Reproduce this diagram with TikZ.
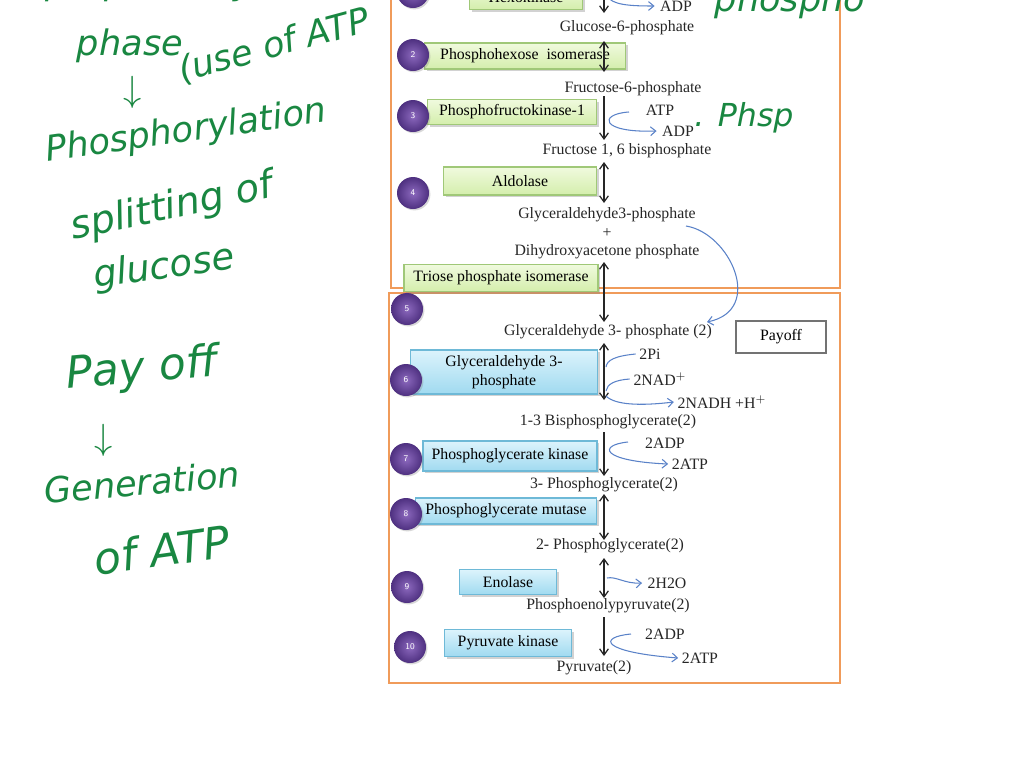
\documentclass[tikz,border=0pt]{standalone}
\usepackage{fontspec}
\setmainfont{Liberation Serif}
\newfontfamily\hand{DejaVu Sans}
\usetikzlibrary{arrows.meta,shadows}
\definecolor{orangeline}{RGB}{240,155,90}
\definecolor{inkgreen}{RGB}{25,135,65}
\definecolor{curveblue}{RGB}{90,130,200}
\definecolor{greenfillA}{RGB}{240,250,222}
\definecolor{greenfillB}{RGB}{212,238,172}
\definecolor{greenedge}{RGB}{160,200,120}
\definecolor{bluefillA}{RGB}{220,243,252}
\definecolor{bluefillB}{RGB}{160,218,240}
\definecolor{blueedge}{RGB}{110,185,215}
\definecolor{purpleA}{RGB}{140,105,190}
\definecolor{purpleB}{RGB}{78,48,128}
\tikzset{
  sub/.style={font=\fontsize{9}{10.5}\selectfont, inner sep=1pt, text=black!85},
  boxsize/.style 2 args={minimum width=#1*0.02cm, minimum height=#2*0.02cm},
  gbox/.style={draw=greenedge, line width=0.6pt, top color=greenfillA, bottom color=greenfillB,
     font=\fontsize{9}{10.5}\selectfont, inner sep=1pt, align=center,
     drop shadow={shadow xshift=1.2pt, shadow yshift=-1.2pt, opacity=0.35}},
  bbox/.style={draw=blueedge, line width=0.6pt, top color=bluefillA, bottom color=bluefillB,
     font=\fontsize{9}{10.5}\selectfont, inner sep=1pt, align=center,
     drop shadow={shadow xshift=1.2pt, shadow yshift=-1.2pt, opacity=0.35}},
  numball/.style={circle, minimum size=32*0.02cm, inner sep=0pt, inner color=purpleA, outer color=purpleB,
     text=white, font=\sffamily\fontsize{5}{6}\selectfont,
     drop shadow={shadow xshift=0.8pt, shadow yshift=-0.8pt, opacity=0.3}},
  mainarrow/.style={line width=0.7pt, black!85},
  uniarrow/.style={mainarrow, -{Straight Barb[length=3.5pt,width=5pt]}},
  biarrow/.style={mainarrow, {Straight Barb[length=3.5pt,width=5pt]}-{Straight Barb[length=3.5pt,width=5pt]}},
  sidecurve/.style={draw=curveblue, line width=0.6pt},
  sidearrow/.style={sidecurve, -{Straight Barb[length=3pt,width=5pt]}},
  orangebox/.style={draw=orangeline, line width=1.6pt},
  hand/.style={text=inkgreen, font=\hand\itshape\fontsize{20}{22}\selectfont, inner sep=0pt},
  payoffbox/.style={draw=black!55, line width=0.7pt, fill=white, font=\fontsize{9}{10.5}\selectfont}
}
\begin{document}
\begin{tikzpicture}[x=0.02cm, y=-0.02cm]
\useasboundingbox (0,0) rectangle (1024,768);
\clip (0,0) rectangle (1024,768);
\fill[white] (0,0) rectangle (1024,768);

% orange frames
\draw[orangebox] (391,-20) -- (391,288) -- (840,288) -- (840,-20);
\draw[orangebox] (389,293) rectangle (840,683);

% enzyme boxes
\node[gbox, boxsize={113}{25}] (e1) at (526,-3) {Hexokinase};
\node[gbox, boxsize={201}{26}] (e2) at (525,56) {Phosphohexose\ \ isomerase};
\node[gbox, boxsize={169}{25}] (e3) at (512,112) {Phosphofructokinase-1};
\node[gbox, boxsize={153}{28}] (e4) at (520,181) {Aldolase};
\node[gbox, boxsize={194}{27}] (e5) at (501,278) {Triose phosphate isomerase};
\node[bbox, boxsize={187}{44}] (e6) at (504,372) {Glyceraldehyde 3-\\phosphate};
\node[bbox, boxsize={174}{30}] (e7) at (510,456) {Phosphoglycerate kinase};
\node[bbox, boxsize={181}{26}] (e8) at (506,511) {Phosphoglycerate mutase};
\node[bbox, boxsize={97}{25}] (e9) at (508,582) {Enolase};
\node[bbox, boxsize={127}{27}] (e10) at (508,643) {Pyruvate kinase};

% number balls (in front of boxes)
\node[numball] (n1) at (413,-8) {1};
\node[numball] (n2) at (413,55) {2};
\node[numball] (n3) at (413,116) {3};
\node[numball] (n4) at (413,193) {4};
\node[numball] (n5) at (407,309) {5};
\node[numball] (n6) at (406,380) {6};
\node[numball] (n7) at (406,459) {7};
\node[numball] (n8) at (406,514) {8};
\node[numball] (n9) at (407,587) {9};
\node[numball] (n10) at (410,647) {10};

% substrates
\node[sub] (g6p) at (627,28) {Glucose-6-phosphate};
\node[sub] (f6p) at (633,89) {Fructose-6-phosphate};
\node[sub] (f16) at (627,151) {Fructose 1, 6 bisphosphate};
\node[sub] (gap) at (607,215) {Glyceraldehyde3-phosphate};
\node[sub] (plus) at (607,233) {+};
\node[sub] (dhap) at (607,252) {Dihydroxyacetone phosphate};
\node[sub] (gap2) at (608,332) {Glyceraldehyde 3- phosphate (2)};
\node[sub] (bpg) at (608,422) {1-3 Bisphosphoglycerate(2)};
\node[sub] (pg3) at (604,485) {3- Phosphoglycerate(2)};
\node[sub] (pg2) at (610,546) {2- Phosphoglycerate(2)};
\node[sub] (pep) at (608,606) {Phosphoenolypyruvate(2)};
\node[sub] (pyr) at (594,668) {Pyruvate(2)};

% cofactors
\node[sub] (adp1) at (676,6) {ADP};
\node[sub] (atp3) at (660,110) {ATP};
\node[sub] (adp3) at (678,131) {ADP};
\node[sub] (pi6) at (650,354) {2Pi};
\node[sub] (nad6) at (660,379) {2NAD$^{+}$};
\node[sub] (nadh6) at (722,402) {2NADH +H$^{+}$};
\node[sub] (adp7) at (665,443) {2ADP};
\node[sub] (atp7) at (690,464) {2ATP};
\node[sub] (h2o9) at (667,583) {2H2O};
\node[sub] (adp10) at (665,634) {2ADP};
\node[sub] (atp10) at (700,658) {2ATP};

\node[payoffbox, boxsize={90}{32}] (payoff) at (781,337) {Payoff};

% main arrows
\coordinate (a1t) at (604,-25); \coordinate (a1b) at (604,13);
\coordinate (a2t) at (604,41);  \coordinate (a2b) at (604,72);
\coordinate (a3t) at (604,96);  \coordinate (a3b) at (604,140);
\coordinate (a4t) at (604,162); \coordinate (a4b) at (604,203);
\coordinate (a5t) at (604,262); \coordinate (a5b) at (604,322);
\coordinate (a6t) at (604,343); \coordinate (a6b) at (604,400);
\coordinate (a7t) at (604,432); \coordinate (a7b) at (604,476);
\coordinate (a8t) at (604,494); \coordinate (a8b) at (604,540);
\coordinate (a9t) at (604,558); \coordinate (a9b) at (604,598);
\coordinate (a10t) at (604,617); \coordinate (a10b) at (604,656);
\draw[uniarrow] (a1t) -- (a1b);
\draw[biarrow] (a2t) -- (a2b);
\draw[uniarrow] (a3t) -- (a3b);
\draw[biarrow] (a4t) -- (a4b);
\draw[biarrow] (a5t) -- (a5b);
\draw[biarrow] (a6t) -- (a6b);
\draw[uniarrow] (a7t) -- (a7b);
\draw[biarrow] (a8t) -- (a8b);
\draw[biarrow] (a9t) -- (a9b);
\draw[uniarrow] (a10t) -- (a10b);

% side curve end points
\coordinate (c1s) at (607,-4);   \coordinate (c1e) at ([xshift=-2pt]adp1.west);
\coordinate (c3s) at (629,112);  \coordinate (c3e) at ([xshift=-2pt]adp3.west);
\coordinate (c6a) at (606,367);  \coordinate (c6b) at (606,391);
\coordinate (c6s) at (606,396);  \coordinate (c6e) at ([xshift=-1pt]nadh6.west);
\coordinate (c7s) at (628,442);  \coordinate (c7e) at ([xshift=-1pt]atp7.west);
\coordinate (c9s) at (607,578);  \coordinate (c9e) at ([xshift=-2pt]h2o9.west);
\coordinate (c10s) at (631,634); \coordinate (c10e) at ([xshift=-1pt]atp10.west);
\coordinate (cgs) at (686,226);  \coordinate (cge) at (707,322);

\draw[sidearrow] (c1s) .. controls (612,5) and (630,6) .. (c1e);
\draw[sidearrow] (c3s) .. controls (598,114) and (600,133) .. (c3e);
\draw[sidecurve] ([xshift=-1pt]pi6.west) .. controls (615,356) and (607,360) .. (c6a);
\draw[sidecurve] ([xshift=-1pt]nad6.west) .. controls (615,380) and (607,384) .. (c6b);
\draw[sidearrow] (c6s) .. controls (615,405) and (640,406) .. (c6e);
\draw[sidearrow] (c7s) .. controls (598,445) and (600,461) .. (c7e);
\draw[sidearrow] (c9s) .. controls (616,576) and (625,584) .. (c9e);
\draw[sidearrow] (c10s) .. controls (598,637) and (600,652) .. (c10e);
\draw[sidearrow] (cgs) .. controls (730,233) and (765,310) .. (cge);

% handwriting
\node[hand] (hw0) at (150,-14) {preparatory};
\node[hand] (hw1) at (130,46) {phase};
\node[hand, rotate=15] (hw2) at (274,46) {(use of ATP};
\node[hand] (hw3) at (133,92) {$\downarrow$};
\node[hand, rotate=8] (hw4) at (186,132) {Phosphorylation};
\node[hand, rotate=12, font=\hand\itshape\fontsize{22}{24}\selectfont] (hw5) at (172,208) {splitting of};
\node[hand, rotate=8, font=\hand\itshape\fontsize{21}{24}\selectfont] (hw6) at (164,268) {glucose};
\node[hand, rotate=5, font=\hand\itshape\fontsize{25}{28}\selectfont] (hw7) at (142,370) {Pay off};
\node[hand] (hw8) at (104,440) {$\downarrow$};
\node[hand, rotate=5] (hw9) at (142,482) {Generation};
\node[hand, rotate=8, font=\hand\itshape\fontsize{25}{28}\selectfont] (hw10) at (162,550) {of ATP};
\node[hand] (hw11) at (790,2) {phospho};
\node[hand, font=\hand\itshape\fontsize{18}{20}\selectfont] (hw12) at (744,118) {. Phsp};
\end{tikzpicture}
\end{document}
